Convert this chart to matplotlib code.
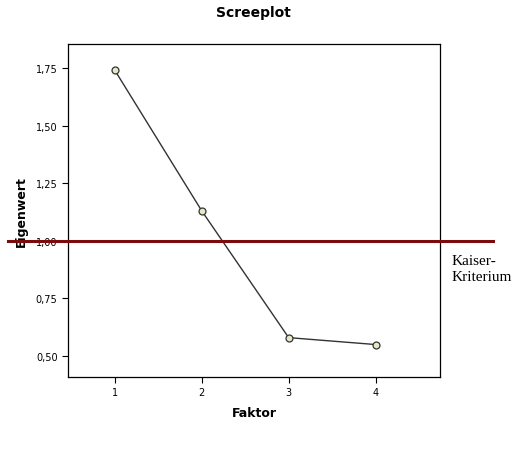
import matplotlib
matplotlib.use("Agg")
import matplotlib.pyplot as plt

factors = [1, 2, 3, 4]
eigenvalues = [1.74, 1.13, 0.58, 0.55]
yticks = [0.50, 0.75, 1.00, 1.25, 1.50, 1.75]
ytick_labels = ["0,50", "0,75", "1,00", "1,25", "1,50", "1,75"]
kaiser = 1.0

fig = plt.figure(figsize=(5.29, 4.56), dpi=100)
ax = fig.add_axes([0.1285, 0.171, 0.703, 0.730])
ax.plot(factors, eigenvalues, color="#333333", lw=1.0, marker="o", ms=5,
        mfc="#e8e6c8", mec="#333333", mew=0.9, zorder=3)
ax.set_xlim(0.46, 4.74)
ax.set_ylim(0.409, 1.854)
ax.set_xticks(factors)
ax.set_yticks(yticks)
ax.set_yticklabels(ytick_labels)
ax.tick_params(labelsize=7, length=4, width=0.8)
for s in ax.spines.values():
    s.set_linewidth(0.9)
ax.set_xlabel("Faktor", fontsize=9, fontweight="bold", labelpad=6)
ax.set_ylabel("Eigenwert", fontsize=9, fontweight="bold", labelpad=6)
ax.set_title("Screeplot", fontsize=10, fontweight="bold", pad=20)

# Kaiser criterion line extending beyond the axes
x0 = (8 / 529 - 0.1285) / 0.703
x1 = (493 / 529 - 0.1285) / 0.703
ax.plot([x0, x1], [kaiser, kaiser], transform=ax.get_yaxis_transform(),
        color="#7a0c0c", lw=2.2, clip_on=False, zorder=4)
fig.text(452 / 529, 1 - 270 / 456, "Kaiser-\nKriterium", fontsize=11,
         family="Liberation Serif", va="center", ha="left", linespacing=1.3)

fig.savefig("out.png", dpi=100)
